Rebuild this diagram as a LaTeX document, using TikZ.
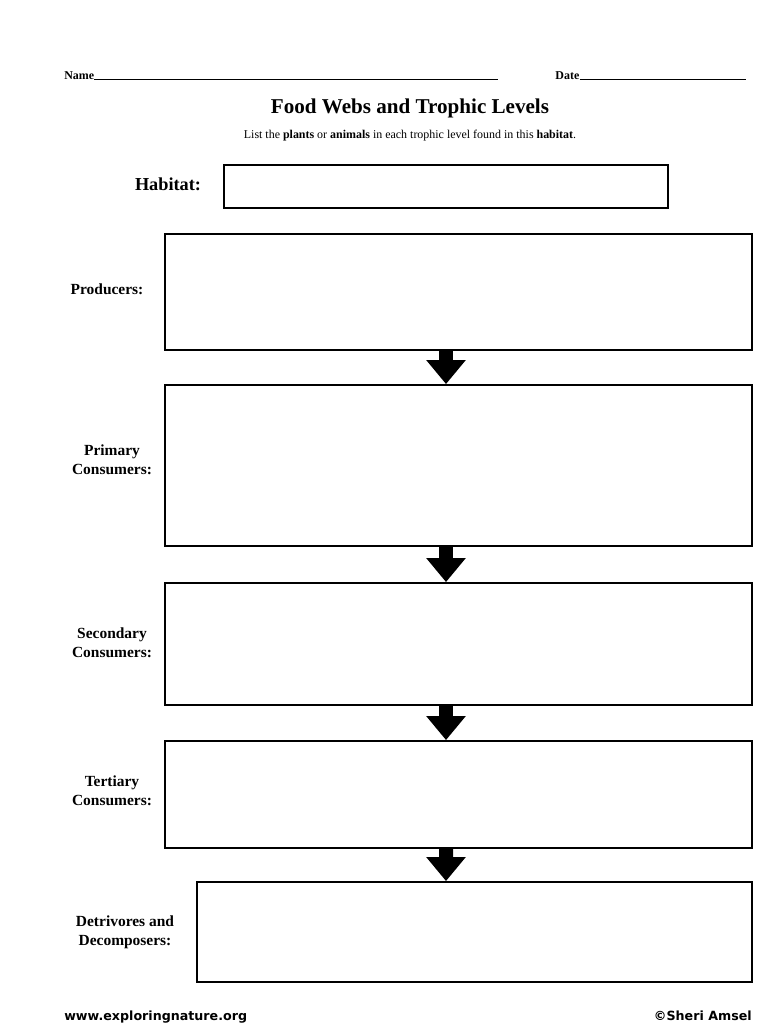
\documentclass[tikz,border=0pt]{standalone}
\usepackage{fontspec}
\setmainfont{Liberation Serif}
\newfontfamily\footfont{DejaVu Sans}
\usetikzlibrary{arrows.meta}
\tikzstyle{level} = [rectangle, draw=black, line width=1.3pt, inner sep=0pt]
\tikzstyle{tag} = [font=\bfseries\fontsize{11}{13.5}\selectfont, align=center]
\tikzstyle{flow} = [line width=0.35cm, -{Triangle[width=0.95cm,length=0.6cm]}, shorten <=-1pt]

\begin{document}
\begin{tikzpicture}
    \useasboundingbox (0,0) rectangle (19.2,-25.6);

    % header
    \node(name)[anchor=base west, inner sep=0pt, font=\bfseries\fontsize{8.5}{9}\selectfont] at (1.6,-1.98) {Name};
    \draw[line width=0.5pt] (name.base east) -- ++(10.1,0);
    \node(date)[anchor=base west, inner sep=0pt, font=\bfseries\fontsize{8.5}{9}\selectfont] at (13.88,-1.98) {Date};
    \draw[line width=0.5pt] (date.base east) -- ++(4.15,0);
    \node(title)[font=\bfseries\fontsize{15}{17}\selectfont] at (10.25,-2.7) {Food Webs and Trophic Levels};
    \node(sub)[font=\fontsize{8.5}{10}\selectfont] at (10.25,-3.4)
        {List the \textbf{plants} or \textbf{animals} in each trophic level found in this \textbf{habitat}.};

    % habitat
    \node(hab)[level, minimum width=11.1cm, minimum height=1.075cm] at (11.15,-4.6625) {};
    \node(habl)[font=\bfseries\fontsize{13}{15}\selectfont] at (4.2,-4.6) {Habitat:};

    % trophic levels
    \node(prod)[level, minimum width=14.675cm, minimum height=2.9cm] at (11.4625,-7.3) {};
    \node(prim)[level, minimum width=14.675cm, minimum height=4.025cm] at (11.4625,-11.6375) {};
    \node(sec)[level, minimum width=14.675cm, minimum height=3.05cm] at (11.4625,-16.1) {};
    \node(ter)[level, minimum width=14.675cm, minimum height=2.675cm] at (11.4625,-19.8625) {};
    \node(det)[level, minimum width=13.875cm, minimum height=2.5cm] at (11.8625,-23.3) {};

    \node(prodl)[tag] at (2.675,-7.225) {Producers:};
    \node(priml)[tag] at (2.8,-11.5) {Primary\\Consumers:};
    \node(secl)[tag] at (2.8,-16.075) {Secondary\\Consumers:};
    \node(terl)[tag] at (2.8,-19.775) {Tertiary\\Consumers:};
    \node(detl)[tag] at (3.125,-23.3) {Detrivores and\\Decomposers:};

    % arrows
    \draw[flow] ([xshift=-0.3125cm]prod.south) -- ([xshift=-0.3125cm]prim.north);
    \draw[flow] ([xshift=-0.3125cm]prim.south) -- ([xshift=-0.3125cm]sec.north);
    \draw[flow] ([xshift=-0.3125cm]sec.south) -- ([xshift=-0.3125cm]ter.north);
    \draw[flow] ([xshift=-0.3125cm]ter.south) -- ([xshift=-0.7125cm]det.north);

    % footer
    \node(web)[anchor=base west, inner sep=0pt, font=\footfont\bfseries\fontsize{9}{10}\selectfont] at (1.6,-25.5) {www.exploringnature.org};
    \node(copy)[anchor=base east, inner sep=0pt, font=\footfont\bfseries\fontsize{9}{10}\selectfont] at (18.8,-25.5) {©Sheri Amsel};

\end{tikzpicture}
\end{document}
